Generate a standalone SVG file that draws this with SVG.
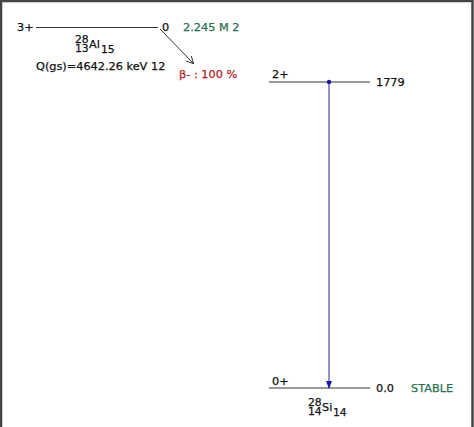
<svg xmlns="http://www.w3.org/2000/svg" width="474" height="427" viewBox="0 0 474 427">
<defs>
<style>
text{font-family:"DejaVu Sans",sans-serif;font-size:11.3px;fill:#111;stroke:#111;stroke-width:0.25px}
.g{fill:#2a6e50;stroke:#2a6e50}
.r{fill:#b01c1c;stroke:#b01c1c}
.s{font-size:10.8px}
.lvl{stroke:#333;stroke-width:1.2}
.gnd{stroke:#777;stroke-width:1.6}
</style>
<marker id="ah" markerWidth="8" markerHeight="8" refX="7" refY="4" orient="auto" markerUnits="userSpaceOnUse">
<path d="M0,0 L8,4 L0,8" fill="none" stroke="#333" stroke-width="1"/>
</marker>
<marker id="bh" markerWidth="8" markerHeight="8" refX="7" refY="4" orient="auto" markerUnits="userSpaceOnUse">
<path d="M0,1 L8,4 L0,7 Z" fill="#1a1aa0"/>
</marker>
</defs>
<rect x="0" y="0" width="474" height="427" fill="#fff"/>
<path d="M1,427 V1 H472.5 V427" fill="none" stroke="#444" stroke-width="2.5"/>
<g id="parent">
<line class="lvl" x1="36" y1="27.5" x2="158" y2="27.5"/>
<text x="17" y="31">3+</text>
<text x="162" y="31">0</text>
<text class="g" x="183" y="31">2.245 M 2</text>
<text class="s" x="75" y="42.5">28</text>
<text class="s" x="75" y="52">13</text>
<text x="89" y="48">Al</text>
<text class="s" x="101" y="53">15</text>
<text x="36" y="69.5">Q(gs)=4642.26 keV 12</text>
</g>
<g id="level1779">
<line class="lvl" x1="269" y1="82" x2="370" y2="82"/>
<text x="272" y="78">2+</text>
<text x="376" y="86">1779</text>
</g>
<g id="ground">
<line class="gnd" x1="269" y1="388" x2="370" y2="388"/>
<text x="272" y="385">0+</text>
<text x="376" y="392">0.0</text>
<text class="g" x="411" y="392">STABLE</text>
<text class="s" x="308" y="405.5">28</text>
<text class="s" x="308" y="415">14</text>
<text x="322" y="411">Si</text>
<text class="s" x="333" y="416">14</text>
</g>
<g id="connectors">
<line x1="160" y1="29" x2="193" y2="63" stroke="#333" stroke-width="1" marker-end="url(#ah)"/>
<text class="r" x="179" y="78">β- : 100 %</text>
<line x1="329" y1="82" x2="329" y2="388" stroke="#5a5aa8" stroke-width="1.3" marker-end="url(#bh)"/>
<circle cx="329" cy="82" r="2.2" fill="#1a1aa0"/>
</g>
</svg>
